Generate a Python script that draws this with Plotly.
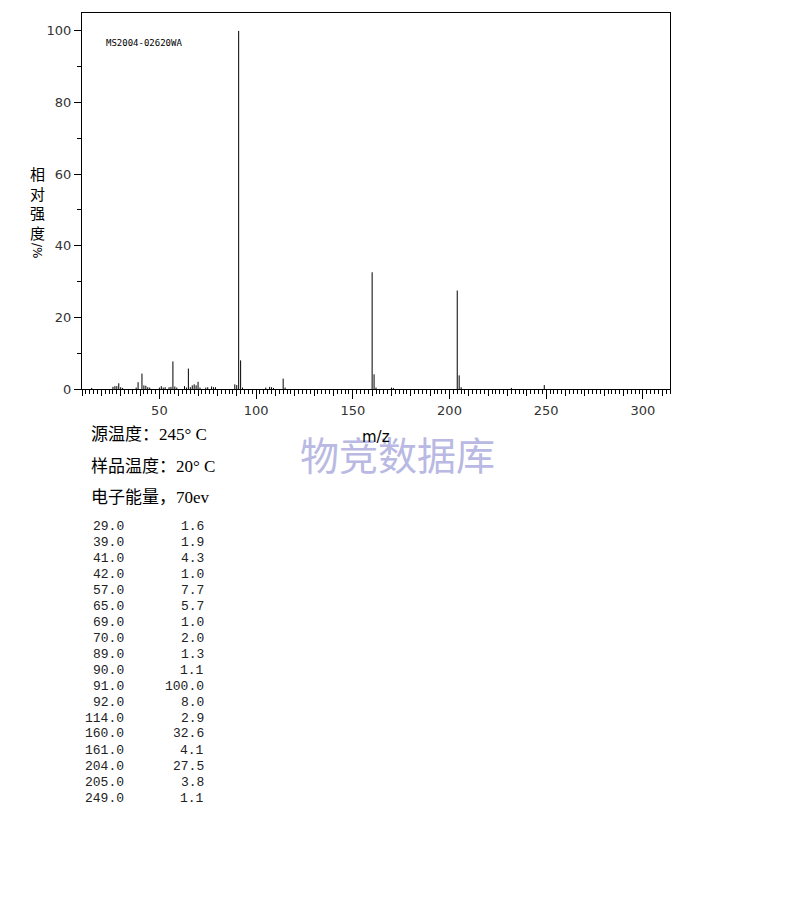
import plotly.graph_objects as go

# ---- data ----
listed_mz = [29, 39, 41, 42, 57, 65, 69, 70, 89, 90, 91, 92, 114, 160, 161, 204, 205, 249]
listed_int = [1.6, 1.9, 4.3, 1.0, 7.7, 5.7, 1.0, 2.0, 1.3, 1.1, 100.0, 8.0, 2.9, 32.6, 4.1, 27.5, 3.8, 1.1]

# small unlisted peaks
minor_mz = [15, 26, 27, 28, 30, 31, 38, 43, 44, 45, 50, 51, 52, 53, 55, 56, 58, 59,
            63, 64, 66, 67, 68, 71, 74, 75, 77, 78, 79, 93, 105, 107, 108, 109, 115,
            162, 170, 171, 206, 232]
minor_int = [0.3, 0.6, 0.8, 0.8, 0.5, 0.3, 0.4, 0.9, 0.5, 0.4, 0.4, 0.8, 0.4, 0.5, 0.5, 0.6, 0.7, 0.4,
             0.8, 0.4, 0.5, 1.0, 1.3, 0.4, 0.4, 0.5, 0.7, 0.5, 0.5, 0.4, 0.4, 0.6, 0.5, 0.3, 0.4,
             0.4, 0.4, 0.3, 0.5, 0.3]

conditions = ["源温度：245° C", "样品温度：20° C", "电子能量，70ev"]
sample_id = "MS2004-02620WA"
y_ticks = [0, 20, 40, 60, 80, 100]
x_ticks = [50, 100, 150, 200, 250, 300]

# ---- geometry (page pixel coordinates; page body has an 8px margin) ----
OFF = 8
W, H = 794 - OFF, 907 - OFF
L, R, T, B = 82, 670, 13, 389
PW, PH = R - L, B - T


def px(xp):
    return (xp - L) / PW


def py(yp):
    return (B - yp) / PH


all_mz = listed_mz + minor_mz
all_int = listed_int + minor_int
xs, ys = [], []
for m, v in zip(all_mz, all_int):
    xs += [m, m, None]
    ys += [0, v, None]

fig = go.Figure()
fig.add_trace(go.Scatter(x=xs, y=ys, mode="lines", line=dict(color="black", width=1),
                         hoverinfo="skip", showlegend=False))
# invisible trace to hold the medium-tick overlay axis
fig.add_trace(go.Scatter(x=[50], y=[0], xaxis="x2", mode="markers",
                         marker=dict(opacity=0), showlegend=False, hoverinfo="skip"))

xrange = [10, 314]
tickfont = dict(family="DejaVu Sans, Verdana, sans-serif", size=13, color="#333")

fig.update_layout(
    width=W, height=H,
    margin=dict(l=L - OFF, r=W + OFF - R, t=T - OFF, b=H + OFF - B),
    paper_bgcolor="white", plot_bgcolor="white",
    xaxis=dict(range=xrange, tickvals=x_ticks, ticks="outside", ticklen=9, tickwidth=1,
               tickcolor="black", showline=True, linecolor="black", linewidth=1, mirror=True,
               showgrid=False, zeroline=False, tickfont=tickfont,
               minor=dict(dtick=2, tick0=0, ticks="outside", ticklen=4, tickcolor="black",
                          showgrid=False)),
    xaxis2=dict(range=xrange, overlaying="x", anchor="y", side="bottom",
                tickvals=list(range(10, 311, 10)), ticks="outside", ticklen=6,
                tickcolor="black", showticklabels=False, showgrid=False, zeroline=False,
                showline=False),
    yaxis=dict(range=[0, 105], tickvals=y_ticks, ticks="outside", ticklen=7, tickwidth=1,
               tickcolor="black", showline=True, linecolor="black", linewidth=1, mirror=True,
               showgrid=False, zeroline=False, tickfont=tickfont,
               minor=dict(dtick=10, tick0=0, ticks="outside", ticklen=4, tickcolor="black",
                          showgrid=False)),
)

ann = []
# sample id
ann.append(dict(x=px(104), y=py(43), xref="paper", yref="paper", text=sample_id,
                showarrow=False, xanchor="left", yanchor="middle",
                font=dict(family="DejaVu Sans Mono, monospace", size=9, color="black")))
# y axis title
ann.append(dict(x=px(37), y=py(203), xref="paper", yref="paper",
                text="相<br>对<br>强<br>度", showarrow=False, xanchor="center", yanchor="middle",
                font=dict(family="Noto Sans CJK SC", size=15, color="black")))
ann.append(dict(x=px(37), y=py(250), xref="paper", yref="paper",
                text="/%", textangle=90, showarrow=False, xanchor="center", yanchor="middle",
                font=dict(family="DejaVu Sans", size=12, color="black")))
# watermark
ann.append(dict(x=px(397), y=py(453), xref="paper", yref="paper", text="物竞数据库",
                showarrow=False, xanchor="center", yanchor="middle",
                font=dict(family="Noto Sans CJK SC", size=39, color="#b9b9e3")))
# m/z
ann.append(dict(x=px(376), y=py(437), xref="paper", yref="paper", text="m/z",
                showarrow=False, xanchor="center", yanchor="middle",
                font=dict(family="DejaVu Sans", size=15, color="black")))
# conditions
for i, t in enumerate(conditions):
    ann.append(dict(x=px(89), y=py(434 + 32 * i), xref="paper", yref="paper", text=t,
                    showarrow=False, xanchor="left", yanchor="middle",
                    font=dict(family="Liberation Serif, Noto Sans CJK SC", size=17, color="black")))
# peak table
for i, (m, v) in enumerate(zip(listed_mz, listed_int)):
    yy = py(526 + 16 * i)
    ann.append(dict(x=px(126), y=yy, xref="paper", yref="paper", text=f"{m:.1f}",
                    showarrow=False, xanchor="right", yanchor="middle",
                    font=dict(family="Liberation Mono, monospace", size=13, color="#222")))
    ann.append(dict(x=px(206), y=yy, xref="paper", yref="paper", text=f"{v:.1f}",
                    showarrow=False, xanchor="right", yanchor="middle",
                    font=dict(family="Liberation Mono, monospace", size=13, color="#222")))

fig.update_layout(annotations=ann)
fig.write_html("out.html")
